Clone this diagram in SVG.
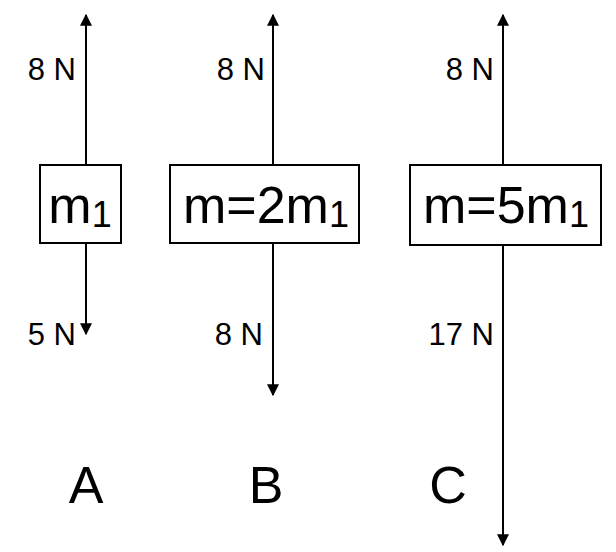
<svg xmlns="http://www.w3.org/2000/svg" width="616" height="552" viewBox="0 0 616 552">
<style>
.box{fill:#fff;stroke:#000;stroke-width:2}
.ln{stroke:#000;stroke-width:2;fill:none;marker-end:url(#ah)}
.f{font-family:"Liberation Sans",Arial,sans-serif;fill:#000}
.lab{font-size:31px;text-anchor:end}
.big{font-size:52px;text-anchor:middle}
</style>
<defs><marker id="ah" viewBox="0 0 10 10" refX="9" refY="5" markerWidth="6" markerHeight="6" orient="auto"><path d="M0,0L10,5L0,10z" fill="#000"/></marker></defs>
<g id="connectors">
<line class="ln" x1="86" y1="165" x2="86" y2="15"/>
<line class="ln" x1="86" y1="243" x2="86" y2="334"/>
<line class="ln" x1="273" y1="165" x2="273" y2="15"/>
<line class="ln" x1="273" y1="243" x2="273" y2="395"/>
<line class="ln" x1="503" y1="165" x2="503" y2="15"/>
<line class="ln" x1="503" y1="245" x2="503" y2="545"/>
</g>
<g class="f lab">
<text x="76" y="80">8 N</text><text x="76" y="345">5 N</text>
<text x="265" y="80">8 N</text><text x="263" y="345">8 N</text>
<text x="494" y="80">8 N</text><text x="494" y="345">17 N</text>
</g>
<g id="nodeA"><rect class="box" x="40" y="165" width="81" height="78"/><text class="f big" x="80" y="223">m<tspan font-size="36" dy="4">1</tspan></text></g>
<g id="nodeB"><rect class="box" x="170" y="165" width="189" height="78"/><text class="f big" x="266" y="223">m=2m<tspan font-size="36" dy="4">1</tspan></text></g>
<g id="nodeC"><rect class="box" x="410" y="165" width="191" height="80"/><text class="f big" x="506" y="223">m=5m<tspan font-size="36" dy="4">1</tspan></text></g>
<g class="f big"><text x="86" y="503">A</text><text x="266" y="503">B</text><text x="448" y="503">C</text></g>
</svg>
